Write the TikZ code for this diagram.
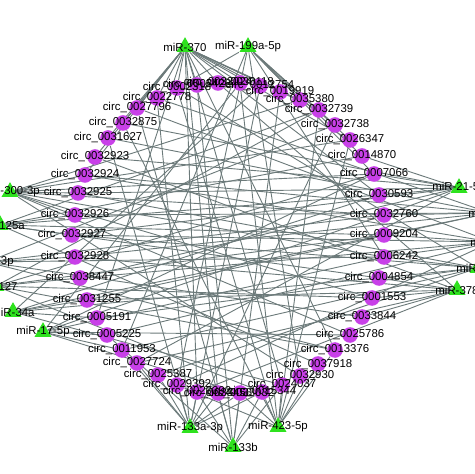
\documentclass[tikz,border=0pt]{standalone}
\usepackage{fontspec}
\newfontfamily\netfont{Liberation Sans}
\usetikzlibrary{shapes.geometric}
\definecolor{CircPink}{HTML}{C840E8}
\definecolor{MirGreen}{HTML}{2EE21E}
\definecolor{EdgeGray}{HTML}{6C7A7A}
\pgfdeclarelayer{links}
\pgfsetlayers{links,main}

\begin{document}
\begin{tikzpicture}[x=0.5pt,y=-0.5pt,
  circ/.style={circle,fill=CircPink,minimum size=7.8pt,inner sep=0pt},
  mir/.style={regular polygon,regular polygon sides=3,fill=MirGreen,
    minimum size=9.8pt,inner sep=0pt},
  lab/.style={font=\netfont\fontsize{5.7}{6}\selectfont,inner sep=0pt},
  link/.style={draw=EdgeGray,line width=0.45pt}
]
  \useasboundingbox (0,0) rectangle (474,474);

  % circRNA ring, clockwise from the top
  \foreach \i/\x/\y in {1/218/83,2/240/83,3/260/86,4/280/92,5/300/100,
      6/319/110,7/335/125,8/350/140,9/362/156,10/374/174,11/379/195,
      12/384/215,13/384/235,14/384/257,15/379/278,16/372/298,17/362/317,
      18/350/335,19/335/350,20/318/364,21/300/376,22/282/385,23/262/392,
      24/240/393,25/218/393,26/197/392,27/177/385,28/158/375,29/137/363,
      30/122/350,31/107/335,32/97/318,33/87/300,34/80/278,35/75/257,
      36/72/235,37/75/215,38/78/193,39/85/175,40/95/157,41/108/138,
      42/123/123,43/137/108,44/157/98,45/177/88,46/197/85}
    \node[circ] (c\i) at (\x,\y) {};

  % miRNAs
  \node[mir] (m370) at (185,47) {};
  \node[mir] (m199) at (248,47) {};
  \node[mir] (m300) at (10,192) {};
  \node[mir] (m125) at (0,225) {};
  \node[mir] (m22) at (-13,262) {};
  \node[mir] (m127) at (-4,286) {};
  \node[mir] (m34a) at (13,312) {};
  \node[mir] (m17) at (43,332) {};
  \node[mir] (m21) at (459,188) {};
  \node[mir] (m122) at (490,213) {};
  \node[mir] (m145) at (492,242) {};
  \node[mir] (m210) at (478,268) {};
  \node[mir] (m378) at (457,290) {};
  \node[mir] (m133a) at (190,428) {};
  \node[mir] (m133b) at (233,447) {};
  \node[mir] (m423) at (278,427) {};

  % interactions
  \begin{pgfonlayer}{links}
    \fill[white] (0,0) rectangle (474,474);
    \foreach \m/\cl in {
        m370/{39,40,41,42,43,44,45,46,1,2,3,4,5,6,8,11,19,22,25,26,32},
        m199/{45,5,7,8,9,10,14,21,27,30},
        m300/{37,38,39,5,10,12,14,16,18,21,8},
        m125/{36,37,9,11,13,15,20,6},
        m22/{35,7,12,14,17,19},
        m127/{34,6,13,16,19,23,10},
        m34a/{32,33,3,11,15,22,13},
        m17/{30,31,2,10,14,18,24,12},
        m21/{9,10,11,12,29,36,38,40,42,34},
        m122/{12,13,33,35,37,41,44,39},
        m145/{13,14,27,31,34,39,43,36},
        m210/{14,15,28,30,32,36,45,38},
        m378/{15,16,17,1,26,29,33,35,40},
        m133a/{23,24,25,26,27,28,29,30,3,41,44,7},
        m133b/{22,23,24,25,26,4,31,46,43},
        m423/{19,20,21,22,23,24,2,6,8,27,42,45}}
      \foreach \c in \cl
        \draw[link] (\m) -- (c\c);
  \end{pgfonlayer}

  % labels
  \foreach \i/\t in {1/0032024,2/0030118,3/0012754,4/0019919,5/0035380,
      6/0032739,7/0032738,8/0026347,9/0014870,10/0007066,11/0030593,
      12/0032760,13/0009204,14/0006242,15/0004854,16/0001553,17/0033844,
      18/0025786,19/0013376,20/0037918,21/0032930,22/0024037,23/0015344,
      24/0033032,25/0033458,26/0020392,27/0029392,28/0025387,29/0027724,
      30/0011953,31/0005225,32/0005191,33/0031255,34/0038447,35/0032928,
      36/0032927,37/0032926,38/0032925,39/0032924,40/0032923,41/0031627,
      42/0032875,43/0027796,44/0022778,45/0002318,46/0003428}
    \node[lab] (l\i) at (c\i) {circ\_\t};
  \node[lab] (t370) at (m370) {miR-370};
  \node[lab] (t199) at (m199) {miR-199a-5p};
  \node[lab] (t300) at (m300) {miR-300-3p};
  \node[lab] (t125) at (m125) {miR-125a};
  \node[lab] (t22) at (m22) {miR-22-3p};
  \node[lab] (t127) at (m127) {miR-127};
  \node[lab] (t34a) at (m34a) {miR-34a};
  \node[lab] (t17) at (m17) {miR-17-5p};
  \node[lab] (t21) at (m21) {miR-21-5p};
  \node[lab] (t122) at (m122) {miR-122};
  \node[lab] (t145) at (m145) {miR-145};
  \node[lab] (t210) at (m210) {miR-210};
  \node[lab] (t378) at (m378) {miR-378};
  \node[lab] (t133a) at (m133a) {miR-133a-3p};
  \node[lab] (t133b) at (m133b) {miR-133b};
  \node[lab] (t423) at (m423) {miR-423-5p};
\end{tikzpicture}
\end{document}
